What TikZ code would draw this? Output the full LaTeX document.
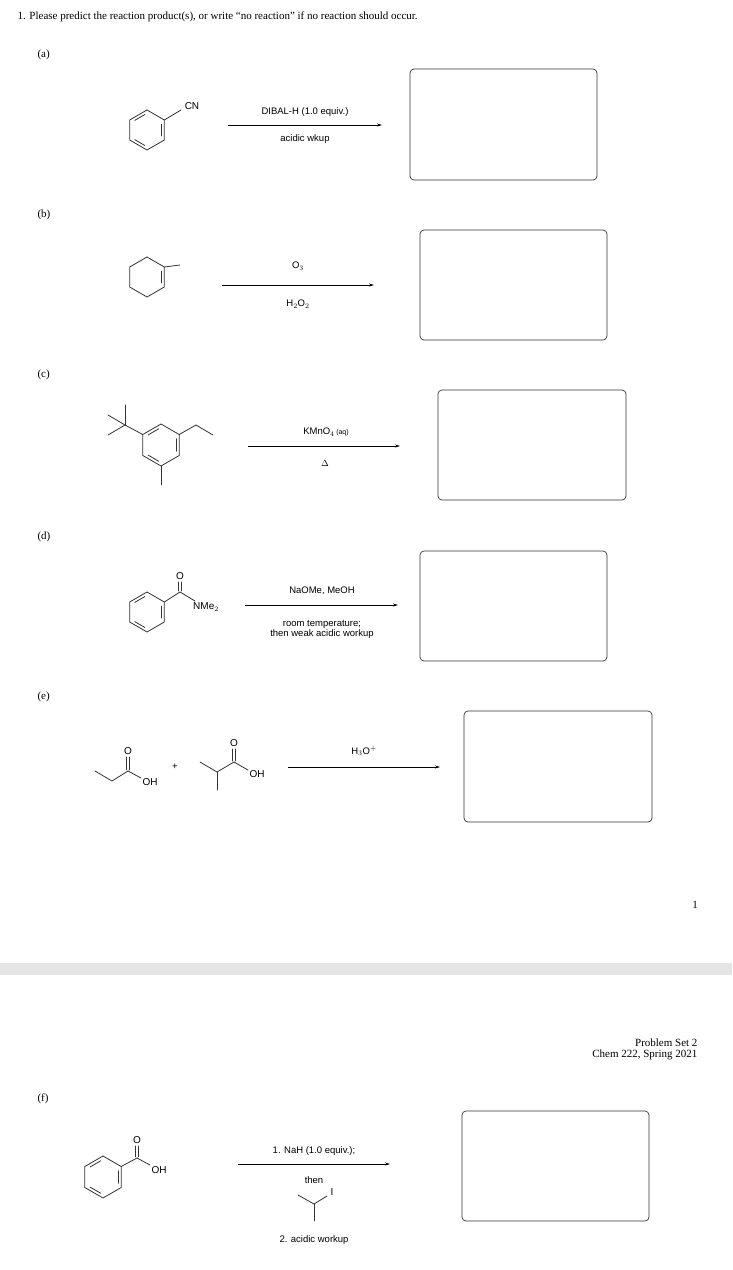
\documentclass[tikz,border=0pt]{standalone}
\usepackage{fontspec}
\setmainfont{Liberation Serif}
\newfontfamily\chem{Liberation Sans}
\usetikzlibrary{arrows.meta}
\newcommand{\hexv}[4]{({#1+#3*cos(#4)},{#2-#3*sin(#4)})}
\newcommand{\benzring}[4]{% cx cy r aromatic(1/0)
 \draw[bond] \hexv{#1}{#2}{#3}{30} -- \hexv{#1}{#2}{#3}{90} -- \hexv{#1}{#2}{#3}{150} -- \hexv{#1}{#2}{#3}{210} -- \hexv{#1}{#2}{#3}{270} -- \hexv{#1}{#2}{#3}{330} -- cycle;
 \ifnum#4=1
 \foreach \a in {90,210,330}{\draw[bond] \hexv{#1}{#2}{0.78*#3}{\a+8} -- \hexv{#1}{#2}{0.78*#3}{\a+52};}
 \fi}
\begin{document}
\begin{tikzpicture}[x=1pt,y=-1pt,
 bond/.style={line width=0.8pt,black!80,line cap=round},
 rx/.style={line width=0.7pt,-{Stealth[length=5pt,width=3pt]}},
 ansbox/.style={draw=black!80,line width=0.7pt,rounded corners=4pt},
 lab/.style={font=\fontsize{11}{13}\selectfont,anchor=west},
 ct/.style={font=\chem\fontsize{9.5}{11}\selectfont,inner sep=1pt},
 atom/.style={font=\chem\fontsize{10}{12}\selectfont,inner sep=1pt}]
\useasboundingbox (0,0) rectangle (732,1270);
\node[lab] (title) at (14,17) {1. Please predict the reaction product(s), or write ``no reaction'' if no reaction should occur.};
\foreach \l/\y in {a/55,b/215,c/375,d/537,e/697,f/1099}{\node[lab] (lab\l) at (34,\y) {(\l)};}
% (a)
\benzring{147}{130}{20}{1}
\path \hexv{147}{130}{20}{30} coordinate (a1);
\node[atom] (acn) at (192,106) {CN};
\draw[bond] (a1) -- (181,110);
\coordinate (aa) at (228,125); \coordinate (ab) at (382,125);
\draw[rx] (aa) -- (ab);
\node[ct] (a3) at (305,112) {DIBAL-H (1.0 equiv.)};
\node[ct] (a4) at (305,139) {acidic wkup};
\draw[ansbox] (410,69) rectangle (597,180);
% (b)
\benzring{147}{277}{20}{0}
\path \hexv{147}{277}{20}{30} coordinate (b1);
\draw[bond] (b1) -- (180,265);
\draw[bond] \hexv{147}{277}{15.6}{22} -- \hexv{147}{277}{15.6}{-22};
\coordinate (ba) at (222,285); \coordinate (bb) at (374,285);
\draw[rx] (ba) -- (bb);
\node[ct] (b3) at (298,266) {O$_3$};
\node[ct] (b4) at (298,304) {H$_2$O$_2$};
\draw[ansbox] (420,230) rectangle (607,340);
% (c)
\benzring{161}{445}{21}{1}
\path \hexv{161}{445}{21}{150} coordinate (c1);
\path \hexv{161}{445}{21}{30} coordinate (c2);
\path \hexv{161}{445}{21}{270} coordinate (c3p);
\draw[bond] (c1) -- (125,425) coordinate (cq);
\draw[bond] (cq) -- (108,415); \draw[bond] (cq) -- (108,435); \draw[bond] (cq) -- (125,405);
\draw[bond] (c2) -- (196,425) -- (213,435);
\draw[bond] (c3p) -- (161,485);
\coordinate (ca) at (248,446); \coordinate (cb) at (400,446);
\draw[rx] (ca) -- (cb);
\node[ct] (c3) at (326,432) {KMnO$_4$\,{\fontsize{7}{8}\selectfont (aq)}};
\node[ct] (c4) at (325,463) {$\Delta$};
\draw[ansbox] (438,390) rectangle (626,500);
% (d)
\benzring{147}{612}{20}{1}
\path \hexv{147}{612}{20}{30} coordinate (d1);
\draw[bond] (d1) -- (180,592) coordinate (dc);
\draw[bond] (178.5,591) -- (178.5,582); \draw[bond] (181.5,591) -- (181.5,582);
\node[atom] (dO) at (180,576) {O};
\draw[bond] (dc) -- (195,601);
\node[atom,anchor=west] (dN) at (192,607) {NMe$_2$};
\coordinate (da) at (245,605); \coordinate (db) at (398,605);
\draw[rx] (da) -- (db);
\node[ct] (d3) at (322,591) {NaOMe, MeOH};
\node[ct,align=center] (d4) at (322,629) {room temperature;\\[-1pt]then weak acidic workup};
\draw[ansbox] (420,551) rectangle (607,661);
% (e)
\draw[bond] (95,771) -- (112,781) -- (128,771) coordinate (ec);
\draw[bond] (126.5,770) -- (126.5,757); \draw[bond] (129.5,770) -- (129.5,757);
\node[atom] (eO) at (128,751) {O};
\draw[bond] (ec) -- (141,778);
\node[atom] (eOH) at (150,782) {OH};
\node[ct] (plus) at (175,767) {+};
\draw[bond] (200,762) -- (217,772) coordinate (em) -- (234,762) coordinate (ec2);
\draw[bond] (em) -- (217,790);
\draw[bond] (232.5,761) -- (232.5,749); \draw[bond] (235.5,761) -- (235.5,749);
\node[atom] (eO2) at (234,743) {O};
\draw[bond] (ec2) -- (248,770);
\node[atom] (eOH2) at (257,774) {OH};
\coordinate (ea) at (288,767); \coordinate (eb) at (440,767);
\draw[rx] (ea) -- (eb);
\node[ct] (e3) at (364,751) {H$_3$O$^+$};
\draw[ansbox] (464,711) rectangle (652,822);
% page break
\node[font=\fontsize{11}{13}\selectfont] (pg) at (695,905) {1};
\fill[black!10] (0,963) rectangle (732,975);
\node[font=\fontsize{11}{13}\selectfont,anchor=east,align=right] (ps) at (701,1049) {Problem Set 2\\[-2pt]Chem 222, Spring 2021};
% (f)
\benzring{103}{1177}{21}{1}
\path \hexv{103}{1177}{21}{30} coordinate (f1);
\draw[bond] (f1) -- (137,1158) coordinate (fc);
\draw[bond] (135.5,1157) -- (135.5,1146); \draw[bond] (138.5,1157) -- (138.5,1146);
\node[atom] (fO) at (137,1140) {O};
\draw[bond] (fc) -- (150,1165);
\node[atom] (fOH) at (159,1170) {OH};
\coordinate (fa) at (238,1164); \coordinate (fb) at (390,1164);
\draw[rx] (fa) -- (fb);
\node[ct] (f3) at (314,1151) {1. NaH (1.0 equiv.);};
\node[ct] (f4) at (314,1180) {then};
\draw[bond] (298,1195) -- (314,1204) coordinate (fi) -- (327,1196);
\draw[bond] (fi) -- (314,1221);
\node[atom] (fI) at (332,1192) {I};
\node[ct] (f5) at (314,1240) {2. acidic workup};
\draw[ansbox] (462,1111) rectangle (649,1221);
\end{tikzpicture}
\end{document}
